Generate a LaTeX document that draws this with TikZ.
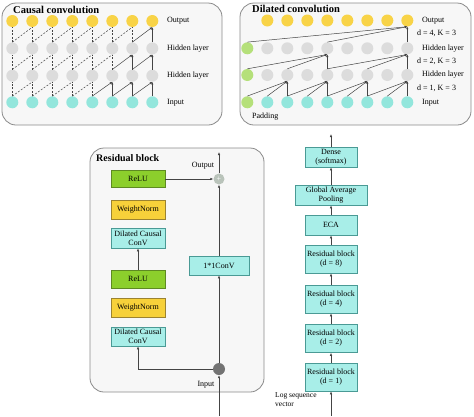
\documentclass[tikz,border=0pt]{standalone}
\usepackage{fontspec}
\setmainfont{Liberation Serif}
\usetikzlibrary{arrows.meta}
\definecolor{panelfill}{HTML}{F7F7F7}
\definecolor{panelline}{HTML}{8A8A8A}
\definecolor{outc}{HTML}{F8D347}
\definecolor{hidc}{HTML}{DCDCDC}
\definecolor{inc}{HTML}{93E6DC}
\definecolor{padc}{HTML}{B5E07A}
\definecolor{reluc}{HTML}{8CCF2C}
\definecolor{reluline}{HTML}{5E8A22}
\definecolor{wnc}{HTML}{F7D13A}
\definecolor{wnline}{HTML}{9C8330}
\definecolor{cyanc}{HTML}{A8EEE8}
\definecolor{cyanline}{HTML}{4A9A95}
\definecolor{edgec}{HTML}{444444}
\definecolor{plusc}{HTML}{B9C3BA}
\begin{document}
\begin{tikzpicture}[x=1pt,y=-1pt,
  panel/.style={draw=panelline,fill=panelfill,line width=0.8pt,rounded corners=14pt},
  title/.style={font=\fontsize{10.5}{12}\selectfont\bfseries,anchor=west,inner sep=0pt},
  lbl/.style={font=\fontsize{8}{9}\selectfont,anchor=west,inner sep=0pt},
  dot/.style={circle,minimum size=12pt,inner sep=0pt},
  dashedge/.style={draw=edgec,dashed,dash pattern=on 2pt off 1.5pt,line width=0.5pt},
  solidedge/.style={draw=edgec,line width=0.5pt,-{Latex[length=2.5pt,width=2.5pt]}},
  arr/.style={draw=edgec,line width=0.6pt,-{Latex[length=3pt,width=2.5pt]}},
  box/.style={draw,align=center,font=\fontsize{8}{9}\selectfont,inner sep=1pt,line width=0.6pt},
  relubox/.style={box,fill=reluc,draw=reluline,minimum width=54pt,minimum height=17pt},
  wnbox/.style={box,fill=wnc,draw=wnline,minimum width=54pt,minimum height=19pt},
  cybox/.style={box,fill=cyanc,draw=cyanline,minimum width=54pt,minimum height=20pt},
]
\useasboundingbox (0,0) rectangle (474,416);

% ---------------- Causal convolution ----------------
\draw[panel] (2,3) rectangle (222,125);
\node[title] (ctitle) at (13,10) {Causal convolution};
\foreach \r/\yy/\cc in {0/102.3/inc,1/75.7/hidc,2/48.4/hidc,3/21/outc}
  \foreach \i in {0,...,7}
    \node[dot,fill=\cc] (c\r-\i) at (12.3+20*\i,\yy) {};
\node[lbl] (cl3) at (167,21) {Output};
\node[lbl] (cl2) at (167,48.4) {Hidden layer};
\node[lbl] (cl1) at (167,75.7) {Hidden layer};
\node[lbl] (cl0) at (167,102.3) {Input};
% verticals
\foreach \r/\s/\n in {0/1/4,1/2/5,2/3/6}
  \foreach \i in {0,...,\n}
    \draw[dashedge] (c\r-\i.north) -- (c\s-\i.south);
\foreach \r/\s/\a in {0/1/5,1/2/6,2/3/7}
  \foreach \i in {\a,...,7}
    \draw[solidedge] (c\r-\i.north) -- (c\s-\i.south);
% diagonals (dashed)
\foreach \p/\q in {0/1,1/2,2/3,3/4}
  \draw[dashedge] (c0-\p.north) -- (c1-\q.south);
\foreach \p/\q in {0/1,1/2,2/3,3/4,4/5}
  \draw[dashedge] (c1-\p.north) -- (c2-\q.south);
\foreach \p/\q in {0/1,1/2,2/3,3/4,4/5,5/6}
  \draw[dashedge] (c2-\p.north) -- (c3-\q.south);
% diagonals (solid)
\foreach \p/\q in {4/5,5/6,6/7}
  \draw[solidedge] (c0-\p.north) -- (c1-\q.south);
\foreach \p/\q in {5/6,6/7}
  \draw[solidedge] (c1-\p.north) -- (c2-\q.south);
\draw[solidedge] (c2-6.north) -- (c3-7.south);

% ---------------- Dilated convolution ----------------
\draw[panel] (240,3) rectangle (471,125);
\node[title] (dtitle) at (252,9) {Dilated convolution};
\foreach \k in {1,...,8}
  \node[dot,fill=outc] (d3-\k) at (247.3+20*\k,20.5) {};
\foreach \r/\yy in {1/75,2/48.3}
  \foreach \k in {1,...,8}
    \node[dot,fill=hidc] (d\r-\k) at (247.3+20*\k,\yy) {};
\foreach \k in {1,...,8}
  \node[dot,fill=inc] (d0-\k) at (247.3+20*\k,102.3) {};
\foreach \r/\yy in {0/102.3,1/75,2/48.3}
  \node[dot,fill=padc] (d\r-0) at (247.3,\yy) {};
\node[lbl] (dl3) at (422,20.5) {Output};
\node[lbl] (dk3) at (417,33.5) {d = 4, K = 3};
\node[lbl] (dl2) at (422,48.3) {Hidden layer};
\node[lbl] (dk2) at (417,61.5) {d = 2, K = 3};
\node[lbl] (dl1) at (422,75) {Hidden layer};
\node[lbl] (dk1) at (417,88.5) {d = 1, K = 3};
\node[lbl] (dl0) at (422,102.3) {Input};
\node[lbl] (dpad) at (252,117) {Padding};
\foreach \p/\q in {0/2,1/2,2/2,2/4,3/4,4/4,4/6,5/6,6/6,6/8,7/8,8/8}
  \draw[solidedge] (d0-\p.north) -- (d1-\q.south);
\foreach \p/\q in {0/4,2/4,4/4,4/8,6/8,8/8}
  \draw[solidedge] (d1-\p.north) -- (d2-\q.south);
\foreach \p in {0,4,8}
  \draw[solidedge] (d2-\p.north) -- (d3-8.south);

% ---------------- Residual block ----------------
\draw[panel] (90,148) rectangle (264,392);
\node[title,font=\fontsize{10}{12}\selectfont\bfseries] (rtitle) at (96,158) {Residual block};
\node[relubox] (relu1) at (138,179) {ReLU};
\node[wnbox] (wn1) at (138,209.5) {WeightNorm};
\node[cybox] (dcc1) at (138,238) {Dilated Causal\\ConV};
\node[relubox,minimum height=18pt] (relu2) at (138,279) {ReLU};
\node[wnbox] (wn2) at (138,307.5) {WeightNorm};
\node[cybox,minimum height=19pt] (dcc2) at (138,336.5) {Dilated Causal\\ConV};
\node[cybox,minimum width=60pt,minimum height=19pt] (conv1) at (219,265.5) {1*1ConV};
\node[circle,fill=plusc,minimum size=11pt,inner sep=0pt,font=\fontsize{8}{8}\selectfont,text=white] (plus) at (219,179) {+};
\node[circle,fill=black!55,minimum size=12pt,inner sep=0pt] (jn) at (219,369) {};
\coordinate (outtop) at (219,152);
\coordinate (inbot) at (219,416);
\coordinate (bend) at (138,369);
\node[lbl,anchor=center] (outlbl) at (203,166) {Output};
\node[lbl,anchor=center] (inlbl) at (206,385) {Input};
\draw[arr] (relu1.east) -- (plus.west);
\draw[arr] (conv1.north) -- (plus.south);
\draw[arr] (plus.north) -- (outtop);
\draw[arr] (relu2.north) -- (dcc1.south);
\draw[arr] (jn.west) -- (bend) -- (dcc2.south);
\draw[arr] (jn.north) -- (conv1.south);
\draw[arr] (inbot) -- (jn.south);

% ---------------- Stack ----------------
\node[cybox,minimum width=52pt,minimum height=20pt] (dense) at (331,157) {Dense\\(softmax)};
\node[cybox,minimum width=72pt,minimum height=20pt] (gap) at (331,195) {Global Average\\Pooling};
\node[cybox,minimum width=52pt,minimum height=20pt] (eca) at (331,225) {ECA};
\node[cybox,minimum width=52pt,minimum height=28pt] (rb8) at (331,259) {Residual block\\(d = 8)};
\node[cybox,minimum width=52pt,minimum height=28pt] (rb4) at (331,299) {Residual block\\(d = 4)};
\node[cybox,minimum width=52pt,minimum height=28pt] (rb2) at (331,338.5) {Residual block\\(d = 2)};
\node[cybox,minimum width=52pt,minimum height=28pt] (rb1) at (331,377) {Residual block\\(d = 1)};
\coordinate (stop) at (331,134);
\coordinate (sbot) at (331,416);
\node[lbl,align=left,font=\fontsize{7.5}{9}\selectfont] (logv) at (275,400) {Log sequence\\vector};
\draw[arr] (sbot) -- (rb1.south);
\draw[arr] (rb1.north) -- (rb2.south);
\draw[arr] (rb2.north) -- (rb4.south);
\draw[arr] (rb4.north) -- (rb8.south);
\draw[arr] (rb8.north) -- (eca.south);
\draw[arr] (eca.north) -- (gap.south);
\draw[arr] (gap.north) -- (dense.south);
\draw[arr] (dense.north) -- (stop);
\end{tikzpicture}
\end{document}
